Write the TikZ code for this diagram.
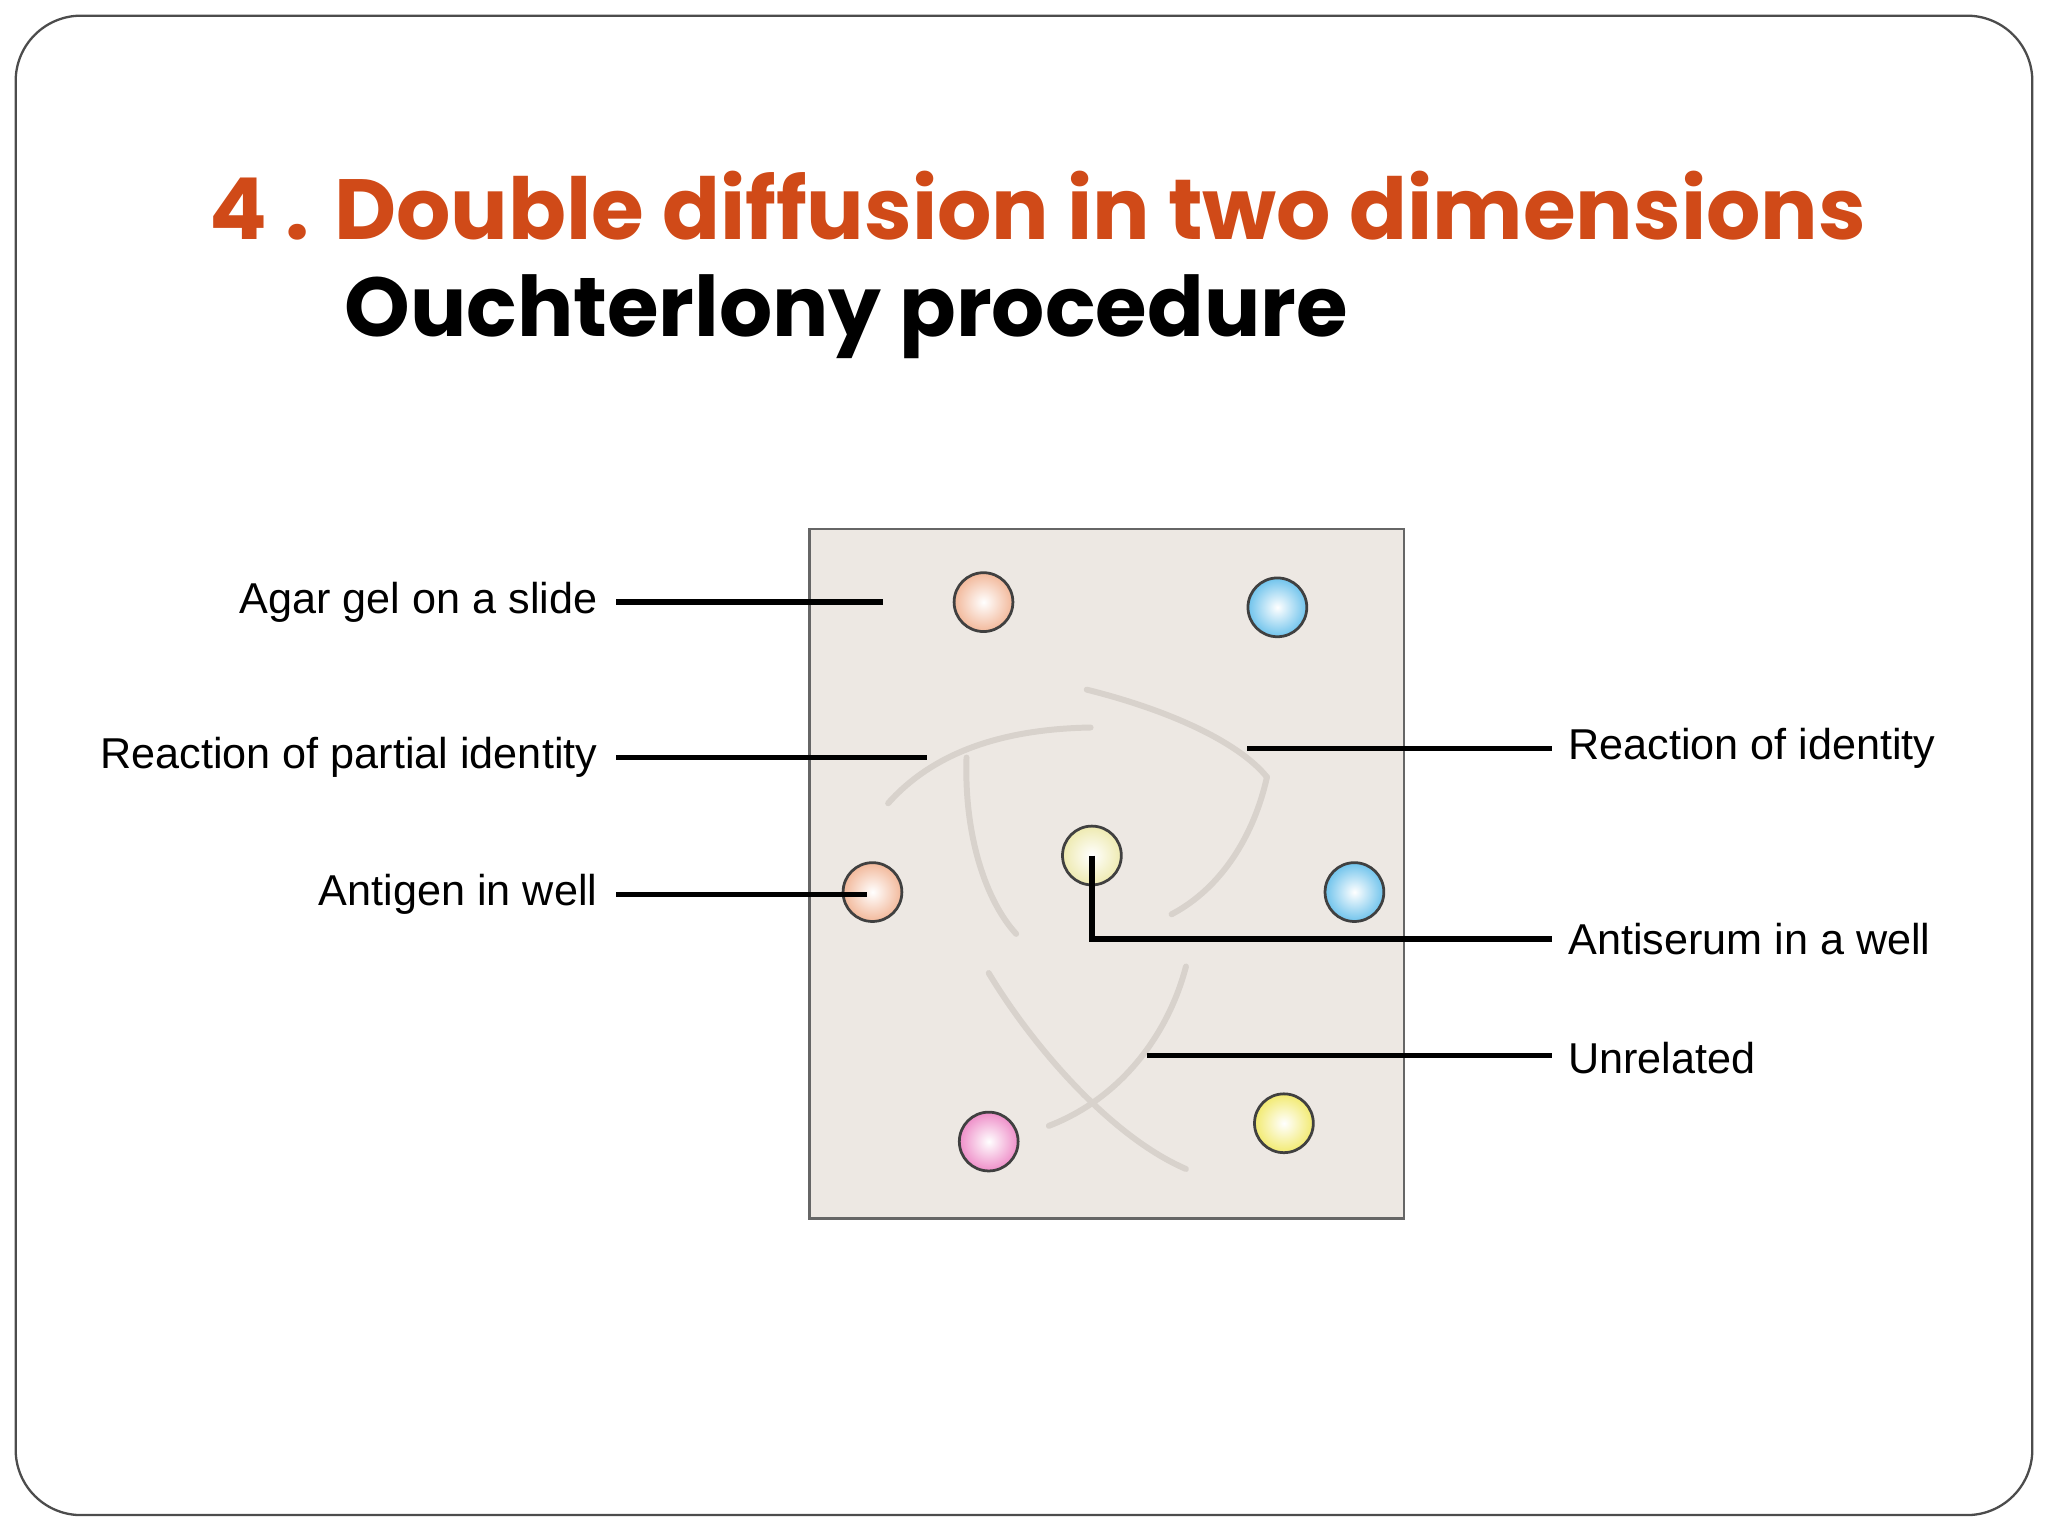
\documentclass[tikz,border=0pt]{standalone}
\usepackage{fontspec}
\setmainfont{Liberation Sans}
\newfontfamily\titlefont{Poppins}
\definecolor{ttl}{HTML}{D04A18}
\definecolor{gel}{HTML}{EDE8E3}
\definecolor{arc}{HTML}{D8D2CC}
\definecolor{peach}{HTML}{F2B89A}
\definecolor{sky}{HTML}{6FC3EC}
\definecolor{pale}{HTML}{EEEAB0}
\definecolor{pinkw}{HTML}{EE8EC8}
\definecolor{yelw}{HTML}{F2EA70}
\tikzset{
  lbl/.style={font=\fontsize{9.4}{11}\selectfont, inner sep=0pt},
  lead/.style={line width=1.2pt},
  prec/.style={draw=arc, line width=1.3pt, line cap=round},
  well/.style={circle, minimum size=0.45cm, inner sep=0pt, draw=black!75, line width=0.6pt, inner color=white, outer color=#1},
  well/.default=white
}
\begin{document}
\begin{tikzpicture}[x=0.01cm,y=-0.01cm]
\useasboundingbox (0,0) rectangle (1568,1176);
\draw[black!70, line width=0.5pt, rounded corners=0.5cm] (12,12) rectangle (1556,1160);
\node[anchor=base west, inner sep=0pt, text=ttl, font=\titlefont\bfseries\fontsize{18.6}{22}\selectfont] (t1) at (160,183) {4 . Double diffusion in two dimensions};
\node[anchor=base west, inner sep=0pt, font=\titlefont\bfseries\fontsize{18.2}{22}\selectfont] (t2) at (263,258) {Ouchterlony procedure};
\draw[fill=gel, draw=black!60, line width=0.6pt] (620,405) rectangle (1075,933);
% precipitin arcs
\draw[prec] (680,615) .. controls (720,570) and (780,558) .. (835,557);
\draw[prec] (740,580) .. controls (738,640) and (755,690) .. (778,715);
\draw[prec] (832,528) .. controls (900,545) and (950,570) .. (970,595);
\draw[prec] (970,595) .. controls (960,640) and (935,680) .. (897,700);
\draw[prec] (757,745) .. controls (790,800) and (850,870) .. (908,895);
\draw[prec] (803,862) .. controls (860,840) and (895,790) .. (908,740);
% wells
\node[well=peach] (w1) at (753,461) {};
\node[well=sky] (w2) at (978,465) {};
\node[well=peach] (w3) at (668,683) {};
\node[well=pale] (w4) at (836,655) {};
\node[well=sky] (w5) at (1037,683) {};
\node[well=pinkw] (w6) at (757,874) {};
\node[well=yelw] (w7) at (983,860) {};
% labels
\node[lbl, anchor=east] (l1) at (458,461) {Agar gel on a slide};
\node[lbl, anchor=east] (l2) at (458,580) {Reaction of partial identity};
\node[lbl, anchor=east] (l3) at (458,685) {Antigen in well};
\node[lbl, anchor=west] (r1) at (1200,573) {Reaction of identity};
\node[lbl, anchor=west] (r2) at (1200,719) {Antiserum in a well};
\node[lbl, anchor=west] (r3) at (1200,810) {Unrelated};
\coordinate (a1) at (472,461); \coordinate (c1) at (676,461);
\coordinate (a2) at (472,580); \coordinate (c2) at (710,580);
\coordinate (a3) at (472,685); \coordinate (c3) at (664,685);
\coordinate (c4) at (955,573); \coordinate (e4) at (1188,573);
\coordinate (e5) at (1188,719);
\coordinate (c6) at (878,808); \coordinate (e6) at (1188,808);
\draw[lead] (a1) -- (c1);
\draw[lead] (a2) -- (c2);
\draw[lead] (a3) -- (c3);
\draw[lead] (c4) -- (e4);
\draw[lead] (w4.center) |- (e5);
\draw[lead] (c6) -- (e6);
\end{tikzpicture}
\end{document}
